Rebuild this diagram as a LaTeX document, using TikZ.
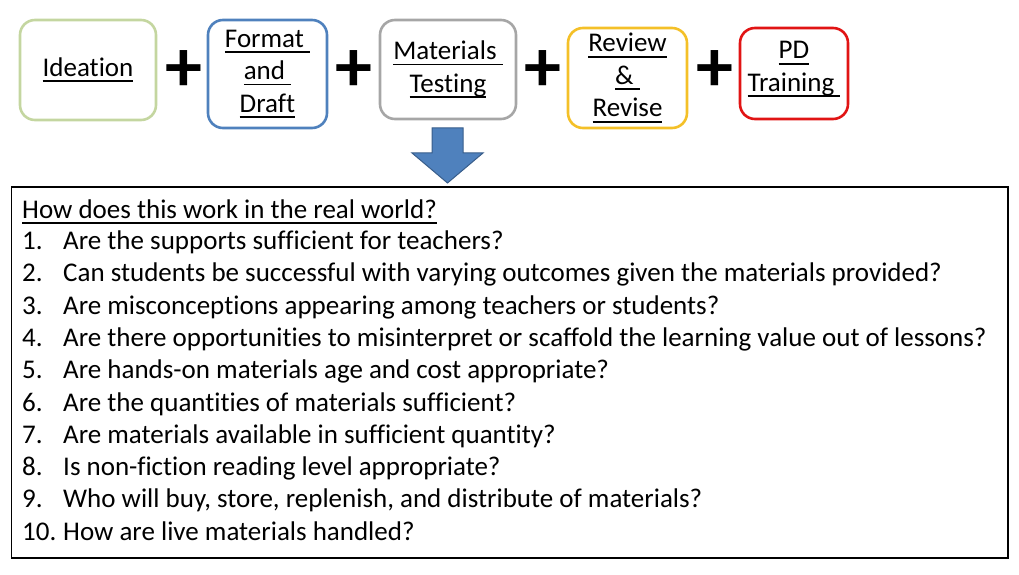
\documentclass[tikz,border=0pt]{standalone}
\usepackage{fontspec}
\setmainfont{Carlito}[Ligatures={NoCommon}]
\usetikzlibrary{positioning}

\definecolor{ideagreen}{RGB}{196,214,160}
\definecolor{draftblue}{RGB}{79,129,189}
\definecolor{testgray}{RGB}{166,166,166}
\definecolor{reviewgold}{RGB}{244,192,40}
\definecolor{trainred}{RGB}{225,20,20}
\definecolor{arrowedge}{RGB}{56,93,138}

% underline at a fixed distance under the baseline
\newcommand{\ulbox}[1]{\setbox0\hbox{#1}\rlap{\vrule width\wd0 height -3.8bp depth 5.6bp}\box0}

\begin{document}
\begin{tikzpicture}[x=1bp, y=-1bp,
  every node/.style={inner sep=0pt, font=\fontsize{27bp}{32.5bp}\selectfont},
  stepbox/.style={draw, rounded corners=15bp, line width=2.6bp, align=center},
  plussign/.style={font=\fontsize{74bp}{74bp}\selectfont\bfseries},
  qnum/.style={anchor=base west},
  qtext/.style={anchor=base west}
]
\useasboundingbox (0,0) rectangle (1019,575);

% the five steps
\node[stepbox, draw=ideagreen, minimum width=136bp, minimum height=100bp] (ideation) at (88,70) {\ulbox{Ideation}};
\node[stepbox, draw=draftblue, minimum width=119bp, minimum height=108bp] (draft) at (267.5,74) {\ulbox{Format\ }\\\ulbox{and\ }\\\ulbox{Draft}};
\node[stepbox, draw=testgray, minimum width=136bp, minimum height=99bp] (testing) at (448,69.5) {\ulbox{Materials\ }\\\ulbox{Testing}};
\node[stepbox, draw=reviewgold, minimum width=119bp, minimum height=100bp] (review) at (627.5,78) {\ulbox{Review}\\\ulbox{\&\ }\\\ulbox{Revise}};
\node[stepbox, draw=trainred, minimum width=108bp, minimum height=91bp, text depth=14bp] (training) at (794,73.5) {\ulbox{PD}\\\ulbox{Training\ }};

\node[plussign] (plus1) at (183.5,71.5) {+};
\node[plussign] (plus2) at (354,71.5) {+};
\node[plussign] (plus3) at (543,71.5) {+};
\node[plussign] (plus4) at (714.5,71.5) {+};

% block arrow
\filldraw[fill=draftblue, draw=arrowedge, line width=1bp]
  (432,128) -- (463,128) -- (463,153) -- (483,153) -- (447.5,183)
  -- (412,153) -- (432,153) -- cycle;

% questions
\node[draw, line width=1.2bp, minimum width=996.5bp, minimum height=371bp] (frame) at (509.75,372.5) {};
\node[qtext] (heading) at (22,218.5) {\ulbox{How does this work in the real world?}};
\foreach \i/\q in {
  1/{Are the supports sufficient for teachers?},
  2/{Can students be successful with varying outcomes given the materials provided?},
  3/{Are misconceptions appearing among teachers or students?},
  4/{Are there opportunities to misinterpret or scaffold the learning value out of lessons?},
  5/{Are hands-on materials age and cost appropriate?},
  6/{Are the quantities of materials sufficient?},
  7/{Are materials available in sufficient quantity?},
  8/{Is non-fiction reading level appropriate?},
  9/{Who will buy, store, replenish, and distribute of materials?},
  10/{How are live materials handled?}}{
  \node[qnum] (n\i) at (22,{249.5+32.3*(\i-1)}) {\i.};
  \node[qtext] (q\i) at (63,{249.5+32.3*(\i-1)}) {\q};
}
\end{tikzpicture}
\end{document}
